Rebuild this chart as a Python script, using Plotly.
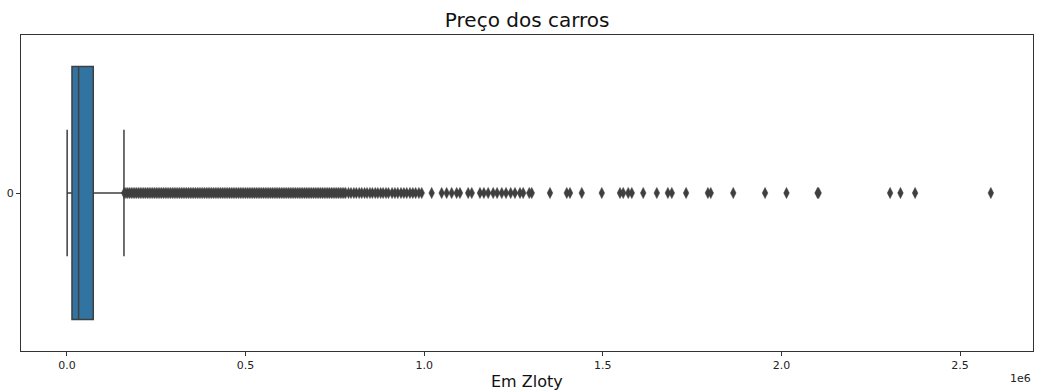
import plotly.graph_objects as go

# ---- data ----
category = [0]
q1 = [14000]
median = [32500]
q3 = [73600]
lower_fence = [500]
upper_fence = [159500]

outliers = [
    160000, 165000, 170000, 175000, 180000, 185000, 190000, 195000, 200000, 205000,
    210000, 215000, 220000, 225000, 230000, 235000, 240000, 245000, 250000, 255000,
    260000, 265000, 270000, 275000, 280000, 285000, 290000, 295000, 300000, 305000,
    310000, 315000, 320000, 325000, 330000, 335000, 340000, 345000, 350000, 355000,
    360000, 365000, 370000, 375000, 380000, 385000, 390000, 395000, 400000, 405000,
    410000, 415000, 420000, 425000, 430000, 435000, 440000, 445000, 450000, 455000,
    460000, 465000, 470000, 475000, 480000, 485000, 490000, 495000, 500000, 505000,
    510000, 515000, 520000, 525000, 530000, 535000, 540000, 545000, 550000, 555000,
    560000, 565000, 570000, 575000, 580000, 585000, 590000, 595000, 600000, 605000,
    610000, 615000, 620000, 625000, 630000, 635000, 640000, 645000, 650000, 655000,
    660000, 665000, 670000, 675000, 680000, 685000, 690000, 695000, 700000, 705000,
    710000, 715000, 720000, 725000, 730000, 735000, 740000, 745000, 750000, 755000,
    760000, 765000, 770000, 775000, 780000,
    788000, 795000, 803000, 810000, 818000, 825000, 833000, 840000, 848000, 855000,
    863000, 870000, 878000, 885000, 893000, 900000, 910000, 918000, 926000, 935000,
    943000, 951000, 960000, 968000, 976000, 985000, 993000,
    1020800, 1048800, 1062800, 1076800, 1090800, 1100000, 1123000,
    1133000, 1156000, 1167000, 1179000, 1193000, 1204000, 1217000, 1229000, 1242000,
    1254000, 1268000, 1277000, 1294000, 1301000,
    1352000, 1399000, 1408000, 1441000, 1497000, 1548000, 1557000, 1571000, 1581000,
    1613000, 1651000, 1682000, 1693000, 1733000, 1794000, 1802000, 1865000, 1954000,
    2014000, 2101000, 2104000, 2304000, 2333000, 2374000, 2586000,
]

x_tick_values = [0, 500000, 1000000, 1500000, 2000000, 2500000]
x_tick_labels = ["0.0", "0.5", "1.0", "1.5", "2.0", "2.5"]

title_text = "Preço dos carros"
x_label = "Em Zloty"

# ---- figure ----
font_family = "DejaVu Sans"
line_col = "#3f3f3f"

fig = go.Figure()

fig.add_trace(go.Box(
    y=category,
    q1=q1, median=median, q3=q3,
    lowerfence=lower_fence, upperfence=upper_fence,
    orientation="h",
    width=0.8,
    whiskerwidth=0.5,
    fillcolor="#3274a1",
    line=dict(color=line_col, width=1.5),
    boxpoints=False,
    showlegend=False,
    hoverinfo="skip",
))

fig.add_trace(go.Scatter(
    x=outliers,
    y=[category[0]] * len(outliers),
    mode="markers",
    marker=dict(symbol="diamond-tall", size=8, color=line_col,
                line=dict(width=0.5, color=line_col)),
    showlegend=False,
    hoverinfo="skip",
))

fig.update_layout(
    width=1046, height=391,
    margin=dict(l=21, r=13, t=35, b=40, autoexpand=False),
    paper_bgcolor="white", plot_bgcolor="white",
    font=dict(family=font_family, color="#222222", size=11),
    title=dict(text=title_text, x=0.504, xanchor="center", y=0.948, yanchor="middle",
               font=dict(size=20, color="#111111", family=font_family)),
    annotations=[
        dict(text=x_label, xref="paper", yref="paper", x=0.5, y=-0.097,
             xanchor="center", yanchor="middle", showarrow=False,
             font=dict(size=16, color="#111111", family=font_family)),
        dict(text="1e6", xref="paper", yref="paper", x=1.0, y=-0.088,
             xanchor="right", yanchor="middle", showarrow=False,
             font=dict(size=11, color="#222222", family=font_family)),
    ],
)

fig.update_xaxes(
    range=[-128700, 2704000],
    tickvals=x_tick_values, ticktext=x_tick_labels,
    ticks="outside", ticklen=4, tickwidth=1, tickcolor="#333333",
    showline=True, linecolor="#333333", linewidth=1, mirror=True,
    showgrid=False, zeroline=False, automargin=False,
)
fig.update_yaxes(
    range=[0.5, -0.5],
    tickvals=[0], ticktext=["0"],
    ticks="outside", ticklen=4, tickwidth=1, tickcolor="#333333",
    showline=True, linecolor="#333333", linewidth=1, mirror=True,
    showgrid=False, zeroline=False, automargin=False,
)

fig.write_html("out.html")
